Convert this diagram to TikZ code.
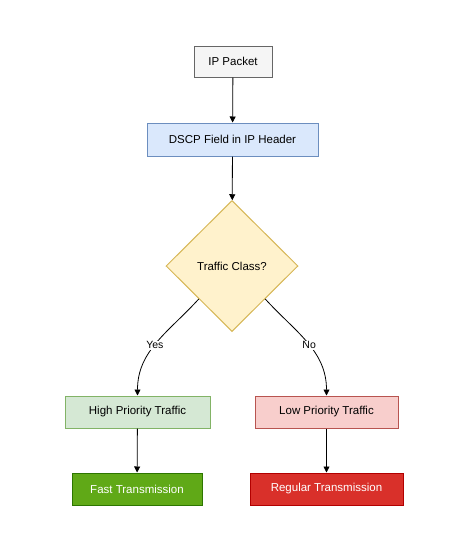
\documentclass[tikz,border=0pt]{standalone}
\usepackage{fontspec}
\setmainfont{Liberation Sans}
\usetikzlibrary{shapes.geometric,arrows.meta}
\definecolor{gfill}{HTML}{F5F5F5}\definecolor{gline}{HTML}{666666}
\definecolor{bfill}{HTML}{DAE8FC}\definecolor{bline}{HTML}{6C8EBF}
\definecolor{yfill}{HTML}{FFF2CC}\definecolor{yline}{HTML}{D6B656}
\definecolor{lgfill}{HTML}{D5E8D4}\definecolor{lgline}{HTML}{82B366}
\definecolor{lrfill}{HTML}{F8CECC}\definecolor{lrline}{HTML}{B85450}
\definecolor{dgfill}{HTML}{60A917}\definecolor{dgline}{HTML}{2D7600}
\definecolor{drfill}{HTML}{D9302A}\definecolor{drline}{HTML}{B20000}
\tikzset{
  box/.style={draw, line width=1pt, rectangle, inner sep=0pt, font=\fontsize{11.5}{13}\selectfont},
  arr/.style={draw=black, line width=0.8pt, -{Triangle[length=6pt,width=6pt]}},
  lbl/.style={fill=white, inner sep=1pt, font=\fontsize{10.5}{12}\selectfont}
}
\begin{document}
\begin{tikzpicture}[x=1pt,y=-1pt]
\useasboundingbox (0,0) rectangle (474,544);
\node[box, fill=gfill, draw=gline, minimum width=78pt, minimum height=31pt] (ip) at (233,61.5) {IP Packet};
\node[box, fill=bfill, draw=bline, minimum width=171pt, minimum height=33pt] (dscp) at (232.5,139.5) {DSCP Field in IP Header};
\node[box, diamond, fill=yfill, draw=yline, minimum width=132pt, minimum height=131pt, aspect=1] (dec) at (232,266) {Traffic Class?};
\node[box, fill=lgfill, draw=lgline, minimum width=145pt, minimum height=32pt] (high) at (137.5,412) {High Priority Traffic};
\node[box, fill=lrfill, draw=lrline, minimum width=143pt, minimum height=32pt] (low) at (326.5,412) {Low Priority Traffic};
\node[box, fill=dgfill, draw=dgline, text=white, minimum width=130pt, minimum height=32pt] (fast) at (137,489) {Fast Transmission};
\node[box, fill=drfill, draw=drline, text=white, minimum width=153pt, minimum height=32pt] (reg) at (326.5,489) {Regular Transmission};
\draw[arr] (ip) -- (dscp);
\draw[arr] (dscp) -- (dec);
\draw[arr] (dec.south west) .. controls +(-30,33) and +(0,-45) .. (high.north) node[lbl, pos=0.53] {Yes};
\draw[arr] (dec.south east) .. controls +(30,33) and +(0,-45) .. (low.north) node[lbl, pos=0.53] {No};
\draw[arr] (high) -- (fast);
\draw[arr] (low) -- (reg);
\end{tikzpicture}
\end{document}
